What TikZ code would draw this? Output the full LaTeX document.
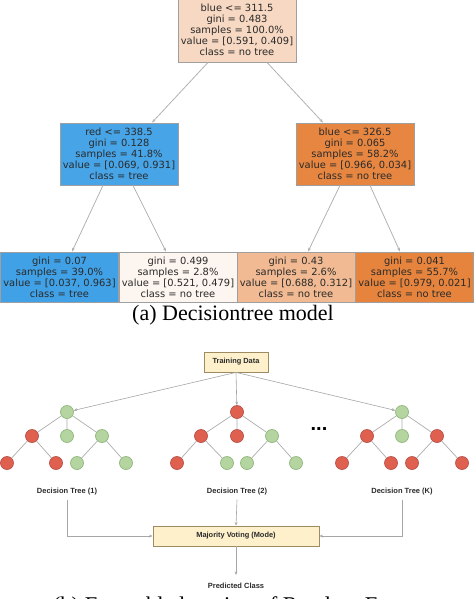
\documentclass[tikz,border=0pt]{standalone}
\usepackage{fontspec}
\setmainfont{Liberation Serif}
\setsansfont{Liberation Sans}
\newfontfamily\dejavu{DejaVu Sans}
\usetikzlibrary{arrows.meta,calc}
\definecolor{orng}{HTML}{E58139}
\definecolor{blu}{HTML}{399DE5}
\definecolor{rnode}{HTML}{E0604F}
\definecolor{rborder}{HTML}{B9524A}
\definecolor{gnode}{HTML}{B5D5A0}
\definecolor{gborder}{HTML}{92B77E}
\definecolor{ybox}{HTML}{FDF0CA}
\definecolor{yborder}{HTML}{9E8B62}
\definecolor{txt}{HTML}{2A2A2A}
\tikzset{
  dtbox/.style={draw=gray!75, line width=0.8pt, align=center, inner sep=0pt,
    font=\dejavu\fontsize{9.9}{11}\selectfont, text=txt},
  tedge/.style={draw=gray!60, line width=0.8pt, -{Stealth[length=4pt,width=3pt]}},
  rn/.style={circle, minimum size=13pt, inner sep=0pt, fill=rnode, draw=rborder, line width=0.7pt},
  gn/.style={circle, minimum size=13pt, inner sep=0pt, fill=gnode, draw=gborder, line width=0.7pt},
  tl/.style={draw=gray!65, line width=0.7pt},
  rfarrow/.style={draw=gray!70, line width=0.6pt, -{Stealth[length=3.5pt,width=2.8pt]}},
  ybx/.style={draw=yborder, fill=ybox, line width=0.8pt, inner sep=0pt,
    font=\sffamily\bfseries\fontsize{7.4}{9}\selectfont, text=txt},
  lbl/.style={font=\sffamily\bfseries\fontsize{7.5}{9}\selectfont, text=txt, inner sep=4pt},
  capt/.style={font=\fontsize{22}{24}\selectfont, text=black, inner sep=0pt}
}
\begin{document}
\begin{tikzpicture}[x=1pt,y=-1pt]
\useasboundingbox (0,0) rectangle (474,599);
% ---------- (a) decision tree ----------
\node[dtbox, fill=orng!31, minimum width=118pt, minimum height=64pt] (root) at (237,30)
  {blue <= 311.5\\gini = 0.483\\samples = 100.0\%\\value = [0.591, 0.409]\\class = no tree};
\node[dtbox, fill=blu!93, minimum width=118pt, minimum height=62pt] (L) at (119,154)
  {red <= 338.5\\gini = 0.128\\samples = 41.8\%\\value = [0.069, 0.931]\\class = tree};
\node[dtbox, fill=orng!96, minimum width=118pt, minimum height=62pt] (R) at (355,154)
  {blue <= 326.5\\gini = 0.065\\samples = 58.2\%\\value = [0.966, 0.034]\\class = no tree};
\node[dtbox, fill=blu!96, minimum width=118.5pt, minimum height=50pt] (l1) at (59.5,277)
  {gini = 0.07\\samples = 39.0\%\\value = [0.037, 0.963]\\class = tree};
\node[dtbox, fill=orng!8, minimum width=118pt, minimum height=50pt] (l2) at (178,277)
  {gini = 0.499\\samples = 2.8\%\\value = [0.521, 0.479]\\class = no tree};
\node[dtbox, fill=orng!55, minimum width=118pt, minimum height=50pt] (l3) at (296,277)
  {gini = 0.43\\samples = 2.6\%\\value = [0.688, 0.312]\\class = no tree};
\node[dtbox, fill=orng!98, minimum width=118.5pt, minimum height=50pt] (l4) at (414.5,277)
  {gini = 0.041\\samples = 55.7\%\\value = [0.979, 0.021]\\class = no tree};
\draw[tedge] ([xshift=-29pt]root.south) -- ([xshift=33pt]L.north);
\draw[tedge] ([xshift=30pt]root.south) -- ([xshift=-32pt]R.north);
\draw[tedge] ([xshift=-16pt]L.south) -- ([xshift=12.5pt]l1.north);
\draw[tedge] ([xshift=14pt]L.south) -- ([xshift=-12pt]l2.north);
\draw[tedge] ([xshift=-15pt]R.south) -- ([xshift=12pt]l3.north);
\draw[tedge] ([xshift=15pt]R.south) -- ([xshift=-14.5pt]l4.north);
\node[capt] (capa) at (233,315) {(a) Decisiontree model};
% ---------- (b) random forest ----------
\node[ybx, minimum width=64pt, minimum height=20pt] (td) at (236,362) {Training Data};
% tree 1
\node[gn] (a0) at (67,412) {};
\node[rn] (a1) at (32,436) {};
\node[gn] (a2) at (67,436) {};
\node[gn] (a3) at (102,436) {};
\node[rn] (a4) at (7,463) {};
\node[rn] (a5) at (56,463) {};
\node[gn] (a6) at (77,463) {};
\node[gn] (a7) at (126,463) {};
\draw[tl] (a0) -- (a1) (a0) -- (a2) (a0) -- (a3) (a1) -- (a4) (a1) -- (a5) (a3) -- (a6) (a3) -- (a7);
% tree 2
\node[rn] (b0) at (237,412) {};
\node[rn] (b1) at (201,436) {};
\node[rn] (b2) at (237,436) {};
\node[gn] (b3) at (272,436) {};
\node[rn] (b4) at (177,463) {};
\node[gn] (b5) at (227,463) {};
\node[gn] (b6) at (247,463) {};
\node[gn] (b7) at (296,463) {};
\draw[tl] (b0) -- (b1) (b0) -- (b2) (b0) -- (b3) (b1) -- (b4) (b1) -- (b5) (b3) -- (b6) (b3) -- (b7);
% tree K
\node[gn] (c0) at (402,412) {};
\node[rn] (c1) at (367,436) {};
\node[gn] (c2) at (402,436) {};
\node[rn] (c3) at (437,436) {};
\node[rn] (c4) at (342,463) {};
\node[rn] (c5) at (391,463) {};
\node[rn] (c6) at (412,463) {};
\node[rn] (c7) at (462,463) {};
\draw[tl] (c0) -- (c1) (c0) -- (c2) (c0) -- (c3) (c1) -- (c4) (c1) -- (c5) (c3) -- (c6) (c3) -- (c7);
\node[font=\sffamily\bfseries\fontsize{20}{20}\selectfont, text=black, inner sep=0pt] (dots) at (319,429) {...};
\draw[rfarrow] (td.south) -- (a0);
\draw[rfarrow] (td.south) -- (b0);
\draw[rfarrow] (td.south) -- (c0);
\node[lbl] (t1) at (67,492) {Decision Tree (1)};
\node[lbl] (t2) at (237,492) {Decision Tree (2)};
\node[lbl] (tK) at (402,492) {Decision Tree (K)};
\node[ybx, minimum width=166pt, minimum height=20pt] (vote) at (236,536) {Majority Voting (Mode)};
\draw[rfarrow] (t1.south) |- (vote.west);
\draw[rfarrow] (t2.south) -- (vote.north);
\draw[rfarrow] (tK.south) |- (vote.east);
\node[lbl, inner sep=2pt] (pred) at (236,586) {Predicted Class};
\draw[rfarrow, shorten >=6pt] (vote.south) -- (pred.north);
\node[capt, font=\fontsize{22.5}{24}\selectfont] (capb) at (237,607) {(b) Ensemble learning of Random Forest};
\end{tikzpicture}
\end{document}
